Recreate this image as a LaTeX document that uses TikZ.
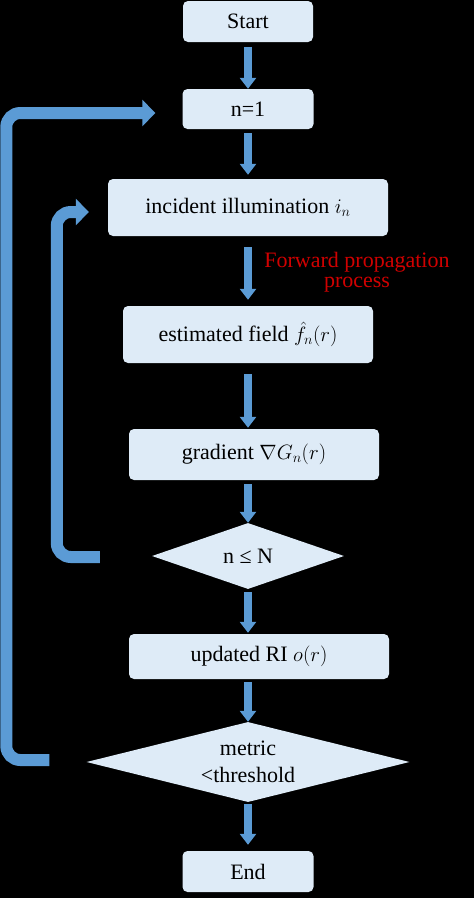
\documentclass[tikz,border=0pt]{standalone}
\usepackage{fontspec}
\setmainfont{Liberation Serif}
\usetikzlibrary{arrows.meta,calc,positioning,shapes.geometric}
\definecolor{bl}{HTML}{5B9BD5}
\definecolor{lb}{HTML}{DEEBF7}
\definecolor{rd}{HTML}{D00000}

\begin{document}
\begin{tikzpicture}[x=1pt,y=-1pt,font=\fontsize{22}{26}\selectfont,
  block/.style={fill=lb,rounded corners=5pt,inner sep=0pt,align=center},
  cond/.style={diamond,fill=lb,inner sep=0pt,align=center},
  arr/.style={-{Triangle[width=16pt,length=11pt]},line width=8pt,draw=bl},
  feedback/.style={-{Triangle[width=26pt,length=13pt]},line width=12pt,draw=bl,
    rounded corners=14pt}]
  \fill[black] (0,0) rectangle (474,898);
  \node[block,minimum width=130pt,minimum height=41pt] (start) at (248,21.5) {Start};
  \node[block,minimum width=131pt,minimum height=40pt] (n1) at (248,109) {n=1};
  \node[block,minimum width=280pt,minimum height=57pt] (inc) at (248,207.5)
    {incident illumination $i_n$};
  \node[block,minimum width=250pt,minimum height=57pt] (est) at (248,334.5)
    {estimated field $\hat{f}_n(r)$};
  \node[block,minimum width=250pt,minimum height=51pt] (grad) at (254,454.5)
    {gradient $\nabla G_n(r)$};
  \node[cond,aspect=2.9,minimum width=192pt,minimum height=66pt] (ncheck) at (248,556)
    {n ≤ N};
  \node[block,minimum width=260pt,minimum height=45pt] (upd) at (259,656.5)
    {updated RI $o(r)$};
  \node[cond,aspect=4,minimum width=323pt,minimum height=80pt,
    font=\fontsize{22}{27}\selectfont] (metric) at (248,762) {metric\\<threshold};
  \node[block,minimum width=131pt,minimum height=41pt] (end) at (248,871.5) {End};
  \node[text=rd,align=center,font=\fontsize{22}{20}\selectfont] (fwd) at (357,272)
    {Forward propagation\\process};
  \draw[arr,shorten <=5pt] (start) -- (n1);
  \draw[arr,shorten <=4pt,shorten >=4pt] (n1) -- (inc);
  \draw[arr,shorten <=11pt,shorten >=6pt] (inc) -- (est);
  \draw[arr,shorten <=11pt,shorten >=1pt] (est) -- (grad.north -| est);
  \draw[arr,shorten <=4pt] (grad.south -| ncheck) -- (ncheck);
  \draw[arr,shorten <=3pt,shorten >=1pt] (ncheck) -- (upd.north -| ncheck);
  \draw[arr,shorten <=3pt] (upd.south -| metric) -- (metric);
  \draw[arr,shorten <=2pt,shorten >=6pt] (metric) -- (end);
  \coordinate (outA) at ($(metric.west)+(-37,-2)$);
  \coordinate (outB) at ($(n1.west)+(-27,4)$);
  \coordinate (inA) at ($(ncheck.west)+(-52,1)$);
  \coordinate (inB) at ($(inc.west)+(-19,4.5)$);
  \draw[feedback] (outA) -- ++(-43,0) |- (outB);
  \draw[feedback] (inA) -- ++(-43,0) |- (inB);
\end{tikzpicture}
\end{document}
